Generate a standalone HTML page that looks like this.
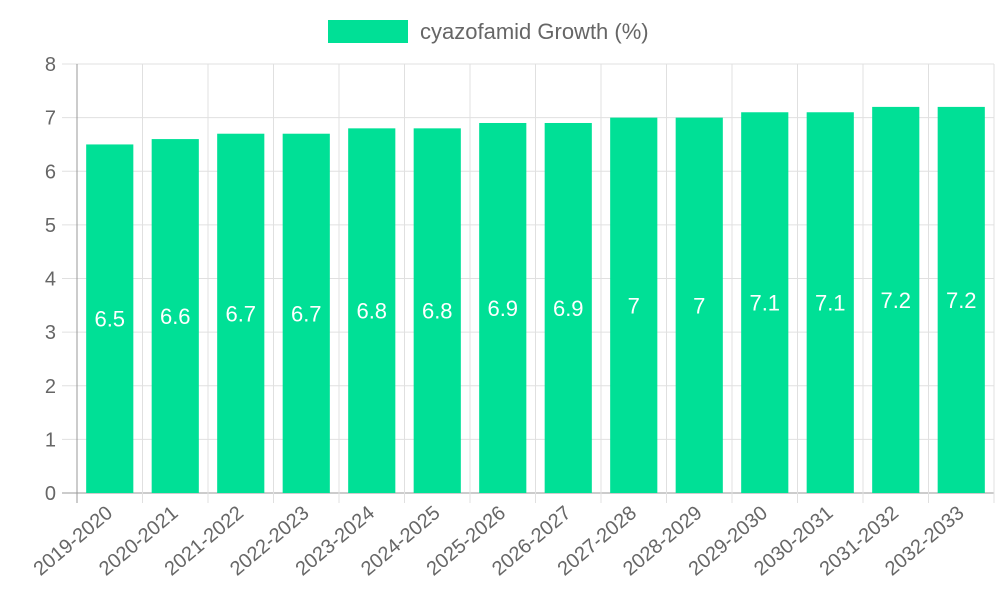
<!DOCTYPE html>
<html><head><meta charset="utf-8"><style>
body{margin:0;background:#fff;}
svg{display:block;font-family:"Liberation Sans",sans-serif;}
</style></head><body>
<svg id="chart" width="1000" height="600">
<g id="legend">
<rect x="328" y="20" width="80" height="23" fill="#00e096"></rect>
<text x="420" y="39" font-size="22" fill="#666">cyazofamid Growth (%)</text>
</g>
<g id="grid"></g><g id="bars"></g><g id="axes"></g>
</svg>
<script>
const categories=["2019-2020","2020-2021","2021-2022","2022-2023","2023-2024","2024-2025","2025-2026","2026-2027","2027-2028","2028-2029","2029-2030","2030-2031","2031-2032","2032-2033"];
const values=[6.5,6.6,6.7,6.7,6.8,6.8,6.9,6.9,7,7,7.1,7.1,7.2,7.2];
const yTicks=[0,1,2,3,4,5,6,7,8];
const NS="http://www.w3.org/2000/svg";
const L=77,R=994,T=64,B=493,yMax=8;
const band=(R-L)/categories.length;
const xS=i=>L+band*i;
const yS=v=>B-(B-T)*v/yMax;
function mk(tag,attrs,parent){const e=document.createElementNS(NS,tag);for(const k in attrs)e.setAttribute(k,attrs[k]);parent.appendChild(e);return e;}
const grid=document.getElementById('grid'),bars=document.getElementById('bars'),axes=document.getElementById('axes');
yTicks.forEach(t=>{
 const y=yS(t);
 const g=mk('line',{x1:L-15,x2:R,y1:y,y2:y,stroke:t===0?'#999':'#e0e0e0','stroke-width':1},grid);
 
 
 const tx=mk('text',{x:56,y:y+7,'text-anchor':'end','font-size':20,fill:'#666'},axes);
 tx.textContent=t;
 
 
});
for(let i=0;i<=categories.length;i++){
 const x=xS(i);
 const g=mk('line',{x1:x,x2:x,y1:T,y2:B+10,stroke:i===0?'#999':'#e0e0e0','stroke-width':1},grid);
 
 
}
categories.forEach((c,i)=>{
 const cx=xS(i)+band/2,bw=band*0.72,y=yS(values[i]);
 const r=mk('rect',{x:cx-bw/2,y:y,width:bw,height:B-y,fill:'#00e096'},bars);
 
 
 const v=mk('text',{x:cx,y:(y+B)/2+8,'text-anchor':'middle','font-size':22,fill:'#fff'},bars);
 v.textContent=values[i];
 
 
 const lb=mk('text',{x:cx+4,y:B+22,'text-anchor':'end','font-size':20,fill:'#666',transform:`rotate(-40 ${cx+4} ${B+22})`},axes);
 lb.textContent=c;
 
 
});
</script>
</body></html>
